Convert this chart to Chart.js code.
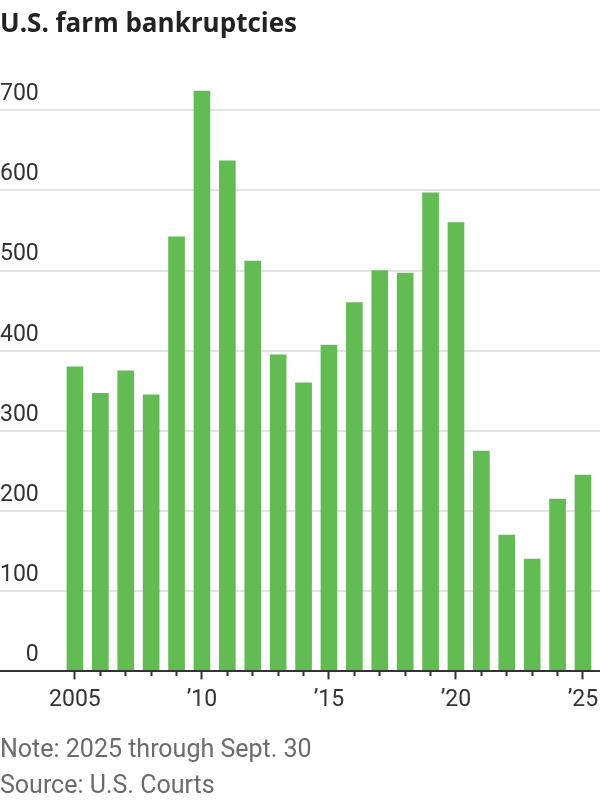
<!DOCTYPE html>
<html>
<head>
<meta charset="utf-8">
<script src="https://cdn.jsdelivr.net/npm/chart.js@4"></script>
<style>
  body { margin: 0; background: #fff; }
</style>
</head>
<body>
<canvas id="farmChart" width="600" height="800"></canvas>
<script>
const years = [2005, 2006, 2007, 2008, 2009, 2010, 2011, 2012, 2013, 2014, 2015,
               2016, 2017, 2018, 2019, 2020, 2021, 2022, 2023, 2024, 2025];
const bankruptcies = [380, 347, 375, 345, 542, 724, 637, 512, 395, 360, 407,
                      460, 500, 497, 597, 560, 275, 170, 140, 215, 245];
const yearLabels = { 2005: '2005', 2010: '\u201910', 2015: '\u201915', 2020: '\u201920', 2025: '\u201925' };
const yTicks = [0, 100, 200, 300, 400, 500, 600, 700];

const fontFamily = 'Roboto, "Liberation Sans", sans-serif';

var ctx = document.getElementById('farmChart').getContext('2d');

var chart = new Chart(ctx, {
    type: 'bar',
    data: {
        datasets: [{
            data: years.map((yr, i) => ({ x: yr, y: bankruptcies[i] })),
            backgroundColor: '#63bc53',
            borderWidth: 0,
            barThickness: 16
        }]
    },
    options: {
        responsive: false,
        animation: false,
        layout: { padding: 0 },
        scales: {
            x: {
                type: 'linear',
                offset: false,
                min: 2002.05,
                max: 2025.67,
                afterBuildTicks: axis => { axis.ticks = years.map(v => ({ value: v })); },
                // keep the plot full width, labels fit anyway
                afterFit: axis => { axis.paddingLeft = 0; axis.paddingRight = 0; },
                grid: {
                    offset: false,
                    drawOnChartArea: false,
                    drawTicks: true,
                    tickLength: 8,
                    tickWidth: 2,
                    tickColor: '#333',
                    // short ticks for the unlabelled years
                    tickBorderDash: c => (yearLabels[c.tick && c.tick.value] ? [] : [4, 40])
                },
                border: { color: '#333', width: 2, z: 1 },
                ticks: {
                    autoSkip: false,
                    maxRotation: 0,
                    padding: 7,
                    color: '#333',
                    font: { family: fontFamily, size: 23 },
                    callback: v => yearLabels[v] || ''
                }
            },
            y: {
                min: 0,
                max: 750,
                afterBuildTicks: axis => { axis.ticks = yTicks.map(v => ({ value: v })); },
                grid: {
                    drawTicks: false,
                    lineWidth: 2,
                    color: c => (c.tick && c.tick.value === 0 ? 'rgba(0,0,0,0)' : '#e3e3e3')
                },
                border: { display: false },
                ticks: {
                    mirror: true,
                    crossAlign: 'far',
                    padding: 0,
                    labelOffset: -16,
                    color: '#333',
                    font: { family: fontFamily, size: 23 }
                }
            }
        },
        plugins: {
            legend: { display: false },
            tooltip: { enabled: false },
            title: {
                display: true,
                text: 'U.S. farm bankruptcies',
                align: 'start',
                color: '#222',
                font: { family: '"Open Sans", sans-serif', size: 26, weight: 'bold' },
                padding: { top: 9, bottom: 30 }
            },
            subtitle: {
                display: true,
                position: 'bottom',
                align: 'start',
                text: ['Note: 2025 through Sept. 30', 'Source: U.S. Courts'],
                color: '#6b6b6b',
                font: { family: fontFamily, size: 25, lineHeight: 1.44 },
                padding: { top: 12, bottom: -5 }
            }
        }
    }
});
</script>
</body>
</html>
